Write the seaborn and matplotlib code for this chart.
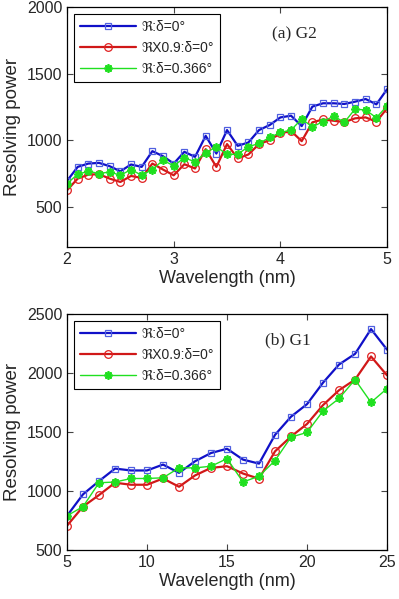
import matplotlib
matplotlib.use("Agg")
import matplotlib.pyplot as plt
import numpy as np
import seaborn as sns

# ---------------------------------------------------------------------------
# Data
# ---------------------------------------------------------------------------

wl_g2 = [2.0, 2.1, 2.2, 2.3, 2.4, 2.5, 2.6, 2.7, 2.8, 2.9, 3.0, 3.1, 3.2, 3.3, 3.4, 3.5,
         3.6, 3.7, 3.8, 3.9, 4.0, 4.1, 4.2, 4.3, 4.4, 4.5, 4.6, 4.7, 4.8, 4.9, 5.0]
rp_g2 = [696, 801, 826, 831, 806, 768, 819, 801, 919, 881, 826, 914, 876, 1034, 901, 1077,
         959, 984, 1077, 1115, 1172, 1185, 1107, 1253, 1278, 1278, 1273, 1290, 1310, 1270, 1383]
rp09_g2 = [626, 713, 743, 746, 713, 688, 733, 718, 826, 781, 738, 821, 789, 934, 801, 972,
           864, 894, 972, 1002, 1052, 1070, 994, 1135, 1157, 1147, 1137, 1165, 1172, 1140, 1240]
rpd_g2 = [676, 746, 768, 751, 763, 738, 781, 738, 781, 851, 809, 869, 839, 906, 952, 894,
          896, 952, 977, 1022, 1059, 1077, 1160, 1102, 1140, 1182, 1135, 1235, 1227, 1170, 1258]

wl_g1 = [5, 6, 7, 8, 9, 10, 11, 12, 13, 14, 15, 16, 17, 18, 19, 20, 21, 22, 23, 24, 25]
rp_g1 = [790, 972, 1084, 1190, 1174, 1174, 1224, 1154, 1252, 1322, 1358, 1266, 1232,
         1476, 1630, 1736, 1918, 2072, 2162, 2372, 2198]
rp09_g1 = [706, 868, 966, 1070, 1053, 1053, 1106, 1036, 1132, 1196, 1210, 1148, 1104,
           1336, 1462, 1568, 1728, 1854, 1944, 2140, 1980]
rpd_g1 = [790, 868, 1070, 1076, 1106, 1106, 1112, 1196, 1196, 1210, 1274, 1076, 1126,
          1258, 1457, 1496, 1678, 1784, 1944, 1751, 1868]

labels = ["\u211c:\u03b4=0\u00b0", "\u211cX0.9:\u03b4=0\u00b0", "\u211c:\u03b4=0.366\u00b0"]
panel_titles = ["(a) G2", "(b) G1"]

# ---------------------------------------------------------------------------
# Style (MATLAB-like: inward ticks on all four sides)
# ---------------------------------------------------------------------------

sns.set_style("ticks")
plt.rcParams["font.family"] = ["Liberation Sans", "DejaVu Sans"]
plt.rcParams["xtick.direction"] = "in"
plt.rcParams["ytick.direction"] = "in"
plt.rcParams["xtick.top"] = True
plt.rcParams["ytick.right"] = True

_STYLES = [
    dict(color="#1010c8", marker="s", markersize=4.5, linewidth=1.6,
         markerfacecolor="none", markeredgecolor="#5060e0", markeredgewidth=0.9),
    dict(color="#d01818", marker="o", markersize=5.5, linewidth=1.6,
         markerfacecolor="none", markeredgecolor="#e02020", markeredgewidth=0.9),
    dict(color="#20e020", marker=(8, 2, 0), markersize=6, linewidth=1.0,
         markerfacecolor="#20e020", markeredgecolor="#20e020", markeredgewidth=1.3),
]


def draw_panel(ax, x, series, xlim, ylim, xticks, yticks, title, title_xy):
    for y, lab, st in zip(series, labels, _STYLES):
        sns.lineplot(x=x, y=y, ax=ax, label=lab, **st)
    ax.set_xlim(*xlim)
    ax.set_ylim(*ylim)
    ax.set_xticks(xticks)
    ax.set_yticks(yticks)
    ax.tick_params(labelsize=11.5, length=4, width=0.8, color="#444444")
    for sp in ax.spines.values():
        sp.set_linewidth(0.9)
        sp.set_color("black")
    ax.set_xlabel("Wavelength (nm)", fontsize=13, labelpad=2)
    ax.set_ylabel("Resolving power", fontsize=13.5, labelpad=4)
    ax.text(title_xy[0], title_xy[1], title, transform=ax.transAxes,
            ha="center", va="center", fontsize=12.5, family="Liberation Serif")
    leg = ax.legend(loc="upper left", fontsize=10, handlelength=4.0,
                    borderaxespad=0.5, fancybox=False, framealpha=1,
                    edgecolor="black", borderpad=0.45, labelspacing=0.5,
                    handletextpad=0.4)
    leg.get_frame().set_linewidth(0.8)


fig = plt.figure(figsize=(3.99, 5.99), dpi=100)
ax1 = fig.add_axes([0.168, 0.5876, 0.802, 0.4007])
ax2 = fig.add_axes([0.168, 0.0818, 0.802, 0.394])

draw_panel(ax1, wl_g2, [rp_g2, rp09_g2, rpd_g2], (2, 5), (200, 2000),
           [2, 3, 4, 5], [500, 1000, 1500, 2000], panel_titles[0], (0.71, 0.887))
draw_panel(ax2, wl_g1, [rp_g1, rp09_g1, rpd_g1], (5, 25), (500, 2500),
           [5, 10, 15, 20, 25], [500, 1000, 1500, 2000, 2500], panel_titles[1], (0.69, 0.89))

fig.savefig("out.png", dpi=100)
plt.close(fig)
